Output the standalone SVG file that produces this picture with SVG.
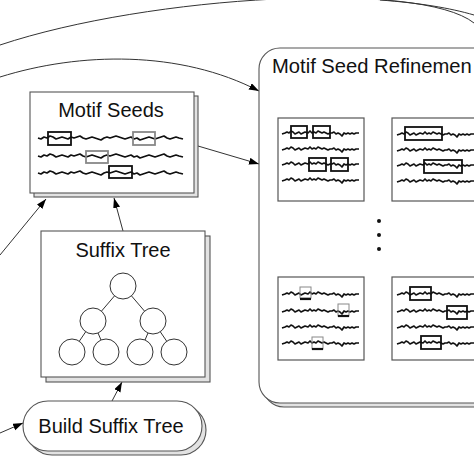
<svg xmlns="http://www.w3.org/2000/svg" width="474" height="474" viewBox="0 0 474 474">
<style>
.lbl{font-family:"Liberation Sans",Arial,sans-serif;font-size:20px;fill:#111}
.box{fill:#fff;stroke:#555;stroke-width:1.1}
.shd{fill:#e2e2e2;stroke:#555;stroke-width:1.1}
.pan{fill:#fff;stroke:#555;stroke-width:1.2}
.seq{fill:none;stroke:#111;stroke-width:1.7;stroke-linejoin:round}
.hb{fill:none;stroke:#111;stroke-width:1.8}
.hg{fill:none;stroke:#888;stroke-width:1.8}
.ht{fill:none;stroke:#888;stroke-width:1}
.ul{stroke:#111;stroke-width:2.2}
.con{fill:none;stroke:#333;stroke-width:1}
.nd{fill:#fff;stroke:#333;stroke-width:1}
</style>
<defs>
<marker id="ah" markerUnits="userSpaceOnUse" markerWidth="11" markerHeight="8" refX="10" refY="3.5" orient="auto">
<path d="M0,0 L10,3.5 L0,7 z" fill="#000"/>
</marker>
<path id="s" d="M0,0 L3,1 L6,-1 L9,0 L12,-2 L15,-1 L18,1 L21,0 L24,-1 L27,0 L30,1 L33,-1 L36,0 L39,-1 L42,-2 L45,0 L48,1 L51,0 L54,-1 L57,0 L60,1 L63,2 L66,0 L69,-1 L72,0 L75,-1 L78,-2 L81,-1 L84,0 L87,1 L90,0 L93,-1 L96,1 L99,0 L102,2 L105,1 L108,0 L111,-1 L114,0 L117,1 L120,0 L123,-1 L126,-2 L129,0 L132,1 L135,0 L138,-1 L141,0 L145,1"/>
<path id="p" d="M0,1 L3,0 L5,-1 L7,0 L9,-2 L11,-1 L13,1 L15,0 L17,-1 L19,1 L21,0 L23,-1 L26,0 L28,-2 L30,0 L32,-1 L34,0 L36,-2 L38,-1 L40,0 L42,-1 L44,0 L46,1 L48,0 L50,0 L52,-1 L54,1 L56,0 L58,1 L60,3 L62,0 L64,1 L66,0 L68,1 L70,0 L72,1 L74,0 L77,0"/>
</defs>

<g id="connectors">
<path class="con" d="M0,45 C150,-5 420,-20 474,23"/>
<path class="con" d="M380,0 C420,3 450,8 474,15"/>
<path class="con" d="M0,77 C80,52 180,50 259,91" marker-end="url(#ah)"/>
<path class="con" d="M198,146 L259,164" marker-end="url(#ah)"/>
<path class="con" d="M123,231 L114,198" marker-end="url(#ah)"/>
<path class="con" d="M0,255 L46,199" marker-end="url(#ah)"/>
<path class="con" d="M112,401 L122,382" marker-end="url(#ah)"/>
<path class="con" d="M0,433 L23,423" marker-end="url(#ah)"/>
<path class="con" d="M364,159 L392,159" marker-end="url(#ah)"/>
<path class="con" d="M364,319 L392,319" marker-end="url(#ah)"/>
</g>

<g id="motif-seeds">
<rect class="shd" x="34" y="96" width="164" height="101"/>
<rect class="box" x="30" y="92" width="164" height="101"/>
<text class="lbl" x="111" y="117" text-anchor="middle">Motif Seeds</text>
<use href="#s" class="seq" x="38" y="138"/>
<use href="#s" class="seq" x="38" y="156"/>
<use href="#s" class="seq" x="38" y="173"/>
<rect class="hb" x="48" y="132" width="23" height="13"/>
<rect class="hg" x="133" y="132" width="22" height="13"/>
<rect class="hg" x="86" y="151" width="22" height="12"/>
<rect class="hb" x="109" y="166" width="23" height="12"/>
</g>

<g id="suffix-tree">
<rect class="shd" x="46" y="236" width="164" height="146"/>
<rect class="box" x="41" y="231" width="164" height="146"/>
<text class="lbl" x="123" y="257" text-anchor="middle">Suffix Tree</text>
<g class="con">
<line x1="114.5" y1="295.9" x2="101.5" y2="311.1"/>
<line x1="131.5" y1="295.9" x2="144.5" y2="311.1"/>
<line x1="85.7" y1="331.8" x2="79.3" y2="341.2"/>
<line x1="98" y1="333" x2="101" y2="340"/>
<line x1="148" y1="333" x2="145" y2="340"/>
<line x1="160.3" y1="331.8" x2="166.7" y2="341.2"/>
</g>
<circle class="nd" cx="123" cy="286" r="13"/>
<circle class="nd" cx="93" cy="321" r="13"/>
<circle class="nd" cx="153" cy="321" r="13"/>
<circle class="nd" cx="72" cy="352" r="13"/>
<circle class="nd" cx="106" cy="352" r="13"/>
<circle class="nd" cx="140" cy="352" r="13"/>
<circle class="nd" cx="174" cy="352" r="13"/>
</g>

<g id="build-suffix-tree">
<rect class="shd" x="27" y="405" width="179" height="50" rx="25"/>
<rect class="box" x="23" y="401" width="179" height="50" rx="25"/>
<text class="lbl" x="111" y="433" text-anchor="middle">Build Suffix Tree</text>
</g>

<g id="motif-seed-refinement">
<rect class="shd" x="263" y="52" width="260" height="355" rx="21"/>
<rect class="box" x="259" y="48" width="260" height="355" rx="21"/>
<text class="lbl" x="272" y="73" style="font-size:20.2px">Motif Seed Refinemen</text>

<g id="panel-1">
<rect class="pan" x="278" y="118" width="86" height="83"/>
<use href="#p" class="seq" x="282" y="133"/>
<use href="#p" class="seq" x="282" y="149"/>
<use href="#p" class="seq" x="282" y="164"/>
<use href="#p" class="seq" x="282" y="180"/>
<rect class="hb" x="291" y="126" width="16" height="12"/>
<rect class="hb" x="313" y="126" width="17" height="12"/>
<rect class="hb" x="309" y="158" width="17" height="13"/>
<rect class="hb" x="331" y="158" width="17" height="13"/>
</g>

<g id="panel-2">
<rect class="pan" x="392" y="118" width="100" height="83"/>
<use href="#p" class="seq" x="397" y="134"/>
<use href="#p" class="seq" x="397" y="150"/>
<use href="#p" class="seq" x="397" y="165"/>
<use href="#p" class="seq" x="397" y="181"/>
<rect class="hb" x="405" y="127" width="37" height="13"/>
<rect class="hb" x="424" y="160" width="38" height="13"/>
</g>

<g id="dots" fill="#111">
<circle cx="379" cy="221" r="2"/>
<circle cx="379" cy="235" r="2"/>
<circle cx="379" cy="249" r="2"/>
</g>

<g id="panel-3">
<rect class="pan" x="278" y="277" width="86" height="83"/>
<use href="#p" class="seq" x="282" y="294"/>
<use href="#p" class="seq" x="282" y="311"/>
<use href="#p" class="seq" x="282" y="327"/>
<use href="#p" class="seq" x="282" y="343"/>
<rect class="ht" x="300" y="287" width="11" height="11"/>
<line class="ul" x1="300" y1="299" x2="311" y2="299"/>
<rect class="ht" x="338" y="304" width="11" height="12"/>
<line class="ul" x1="338" y1="316" x2="349" y2="316"/>
<rect class="ht" x="312" y="337" width="11" height="12"/>
<line class="ul" x1="312" y1="349" x2="323" y2="349"/>
</g>

<g id="panel-4">
<rect class="pan" x="392" y="277" width="100" height="83"/>
<use href="#p" class="seq" x="397" y="294"/>
<use href="#p" class="seq" x="397" y="311"/>
<use href="#p" class="seq" x="397" y="327"/>
<use href="#p" class="seq" x="397" y="343"/>
<rect class="hb" x="410" y="287" width="21" height="13"/>
<rect class="hb" x="447" y="306" width="20" height="13"/>
<rect class="hb" x="421" y="336" width="20" height="13"/>
</g>
</g>
</svg>
